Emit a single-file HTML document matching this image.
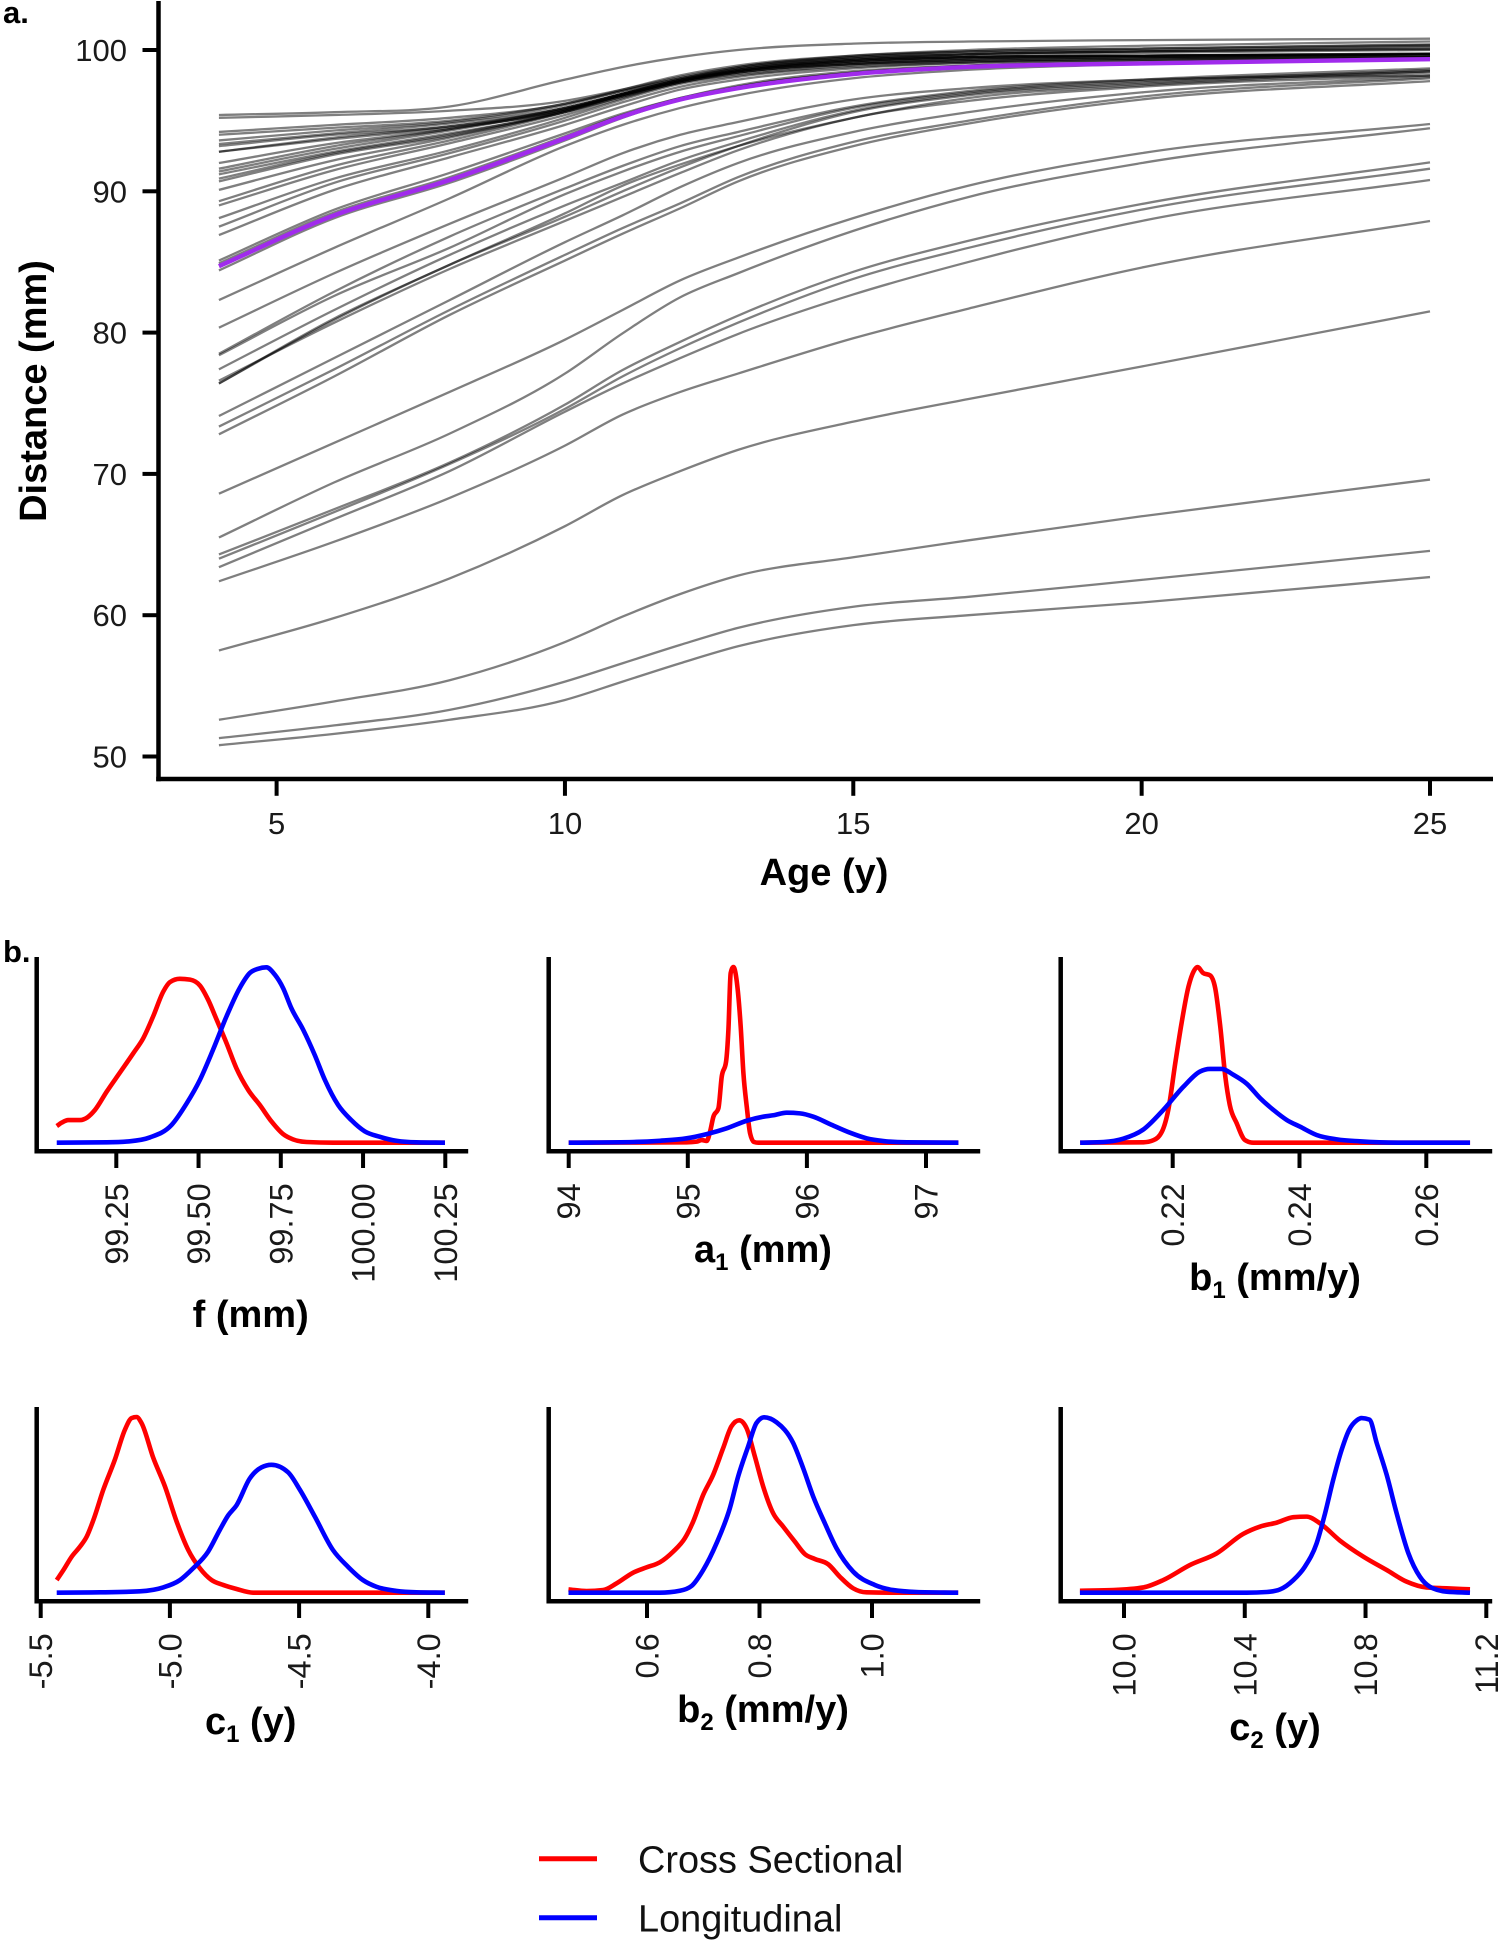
<!DOCTYPE html>
<html lang="en">
<head>
<meta charset="utf-8">
<title>Distance growth curves and parameter distributions</title>
<style>
html,body{margin:0;padding:0;background:#fff;}
#figure{display:block;width:1499px;height:1942px;background:#fff;}
text{font-family:"Liberation Sans",sans-serif;fill:#000;}
.tick{font-size:31px;fill:#1a1a1a;}
.ptick{font-size:32.5px;fill:#1a1a1a;}
.axlabel{font-size:38px;font-weight:bold;}
.panel-label{font-size:31px;font-weight:bold;}
.legend-text{font-size:37.9px;fill:#111;}
</style>
</head>
<body>
<svg id="figure" xmlns="http://www.w3.org/2000/svg" width="1499" height="1942" viewBox="0 0 1499 1942">
  <text class="panel-label" x="3" y="23">a.</text>
  <text class="panel-label" x="3" y="962">b.</text>
  <g id="main-chart"></g>
  <g id="panels"></g>
  <g>
    <line x1="539" x2="597" y1="1858.7" y2="1858.7" stroke="#f00" stroke-width="5"/>
    <text class="legend-text" x="638" y="1872.5">Cross Sectional</text>
    <line x1="539" x2="597" y1="1917.7" y2="1917.7" stroke="#00f" stroke-width="5"/>
    <text class="legend-text" x="638" y="1931.5">Longitudinal</text>
  </g>
</svg>
<script>
/* ---------- main chart data ---------- */
const ages = [4, 6, 8, 10, 11, 12, 13, 15, 17, 20, 25];
const ageTicks = [5, 10, 15, 20, 25];
const distanceTicks = [50, 60, 70, 80, 90, 100];
const meanCurve = [84.7, 88.3, 90.8, 93.75, 95.3, 96.5, 97.3, 98.3, 98.8, 99.05, 99.35];
const subjectCurves = [
  [50.8, 51.6, 52.6, 54.0, 55.3, 56.6, 57.8, 59.3, 60.0, 60.9, 62.7],
  [51.3, 52.2, 53.3, 55.3, 56.6, 57.9, 59.1, 60.6, 61.3, 62.5, 64.55],
  [52.6, 53.9, 55.4, 58.1, 59.9, 61.5, 62.8, 64.1, 65.3, 67.0, 69.6],
  [57.5, 59.8, 62.6, 66.3, 68.5, 70.2, 71.7, 73.7, 75.3, 77.6, 81.5],
  [62.4, 65.2, 68.3, 72.0, 74.2, 75.8, 77.1, 79.6, 81.7, 84.6, 87.9],
  [63.4, 66.8, 70.2, 74.4, 76.4, 78.2, 79.9, 82.7, 85.0, 87.9, 90.8],
  [64.0, 67.3, 70.7, 74.6, 76.9, 78.9, 80.7, 83.8, 86.0, 88.7, 91.6],
  [64.3, 67.5, 70.8, 74.9, 77.35, 79.35, 81.2, 84.3, 86.5, 89.1, 92.05],
  [65.5, 69.4, 72.85, 77.1, 79.95, 82.5, 84.2, 87.2, 89.6, 92.0, 94.46],
  [68.6, 72.2, 75.8, 79.5, 81.6, 83.7, 85.3, 88.1, 90.4, 92.7, 94.76],
  [72.8, 76.9, 81.25, 85.1, 87.0, 88.8, 90.7, 93.2, 94.8, 96.5, 97.8],
  [73.35, 77.4, 81.6, 85.5, 87.4, 89.15, 91.0, 93.5, 95.0, 96.7, 98.0],
  [74.1, 78.2, 82.3, 86.4, 88.3, 90.3, 92.0, 94.2, 95.6, 97.0, 98.1],
  [76.4, 81.0, 84.8, 88.44, 90.4, 91.9, 93.2, 95.2, 96.6, 97.5, 98.4],
  [76.4, 80.9, 84.8, 88.2, 90.0, 91.7, 93.2, 95.6, 96.8, 97.6, 98.5],
  [76.6, 80.7, 84.5, 87.9, 89.6, 91.3, 92.9, 95.2, 96.4, 97.4, 98.2],
  [77.4, 81.6, 85.5, 89.0, 90.6, 92.2, 93.5, 95.7, 96.9, 97.7, 98.6],
  [78.4, 82.6, 86.0, 89.8, 91.4, 92.8, 93.9, 95.9, 97.0, 97.8, 98.5],
  [78.5, 82.9, 86.8, 90.2, 91.8, 93.2, 94.2, 96.0, 97.1, 97.9, 98.7],
  [80.35, 84.2, 87.7, 91.0, 92.7, 94.0, 94.9, 96.5, 97.3, 97.9, 98.2],
  [82.3, 86.0, 89.5, 93.2, 94.7, 95.9, 96.8, 98.0, 98.6, 99.0, 99.4],
  [84.4, 88.1, 90.6, 93.6, 95.2, 96.5, 97.4, 98.4, 98.9, 99.2, 99.5],
  [84.9, 88.5, 91.0, 93.9, 95.4, 96.6, 97.4, 98.4, 98.8, 99.1, 99.4],
  [85.1, 88.7, 91.3, 94.1, 95.5, 96.6, 97.5, 98.5, 98.9, 99.1, 99.3],
  [86.9, 90.1, 92.4, 94.7, 96.0, 97.2, 97.9, 98.7, 99.1, 99.3, 99.6],
  [87.5, 90.6, 92.7, 95.0, 96.3, 97.4, 98.1, 98.8, 99.1, 99.3, 99.5],
  [88.1, 90.9, 92.9, 95.2, 96.5, 97.6, 98.2, 98.9, 99.2, 99.4, 99.7],
  [89.0, 91.5, 93.4, 95.4, 96.6, 97.7, 98.3, 99.0, 99.3, 99.5, 99.7],
  [89.3, 91.8, 93.6, 95.6, 96.8, 97.8, 98.4, 99.1, 99.4, 99.5, 99.6],
  [90.1, 92.2, 93.8, 95.7, 96.9, 97.9, 98.5, 99.1, 99.4, 99.6, 99.75],
  [90.7, 92.6, 93.9, 95.6, 96.7, 97.7, 98.4, 99.0, 99.3, 99.5, 99.7],
  [90.9, 92.7, 94.0, 95.7, 96.8, 97.8, 98.5, 99.2, 99.5, 99.6, 99.7],
  [91.2, 92.8, 94.1, 95.6, 96.7, 97.7, 98.4, 99.0, 99.2, 99.4, 99.5],
  [91.4, 93.0, 94.3, 95.8, 96.8, 97.8, 98.5, 99.2, 99.5, 99.6, 99.7],
  [91.6, 93.2, 94.4, 95.9, 96.9, 97.9, 98.6, 99.3, 99.6, 99.8, 100.0],
  [92.0, 93.4, 94.4, 95.8, 96.9, 97.9, 98.6, 99.3, 99.7, 99.9, 100.2],
  [92.8, 93.7, 94.5, 95.7, 96.8, 97.8, 98.5, 99.3, 99.5, 99.6, 99.75],
  [92.8, 93.8, 94.6, 95.8, 96.8, 97.8, 98.6, 99.4, 99.7, 99.9, 100.05],
  [93.2, 94.0, 94.6, 95.9, 96.9, 97.9, 98.7, 99.4, 99.7, 99.9, 100.1],
  [93.35, 94.1, 94.8, 95.9, 96.9, 97.8, 98.5, 99.2, 99.5, 99.6, 99.7],
  [93.6, 94.3, 94.9, 96.1, 97.1, 98.0, 98.7, 99.5, 99.8, 100.0, 100.3],
  [94.0, 94.5, 95.0, 96.2, 97.1, 98.0, 98.8, 99.5, 99.9, 100.1, 100.4],
  [94.2, 94.7, 95.2, 96.2, 97.2, 98.2, 98.9, 99.6, 99.9, 100.1, 100.35],
  [95.2, 95.4, 95.7, 96.4, 97.2, 98.1, 98.8, 99.6, 100.0, 100.3, 100.6],
  [95.4, 95.6, 96.0, 97.9, 98.8, 99.5, 100.0, 100.45, 100.6, 100.7, 100.8]
];

/* ---------- density panel data ---------- */
const fTicks = ['99.25', '99.50', '99.75', '100.00', '100.25'];
const fRedX = [99.069, 99.084, 99.104, 99.140, 99.162, 99.185, 99.221, 99.261, 99.302, 99.332, 99.362, 99.393, 99.413, 99.443, 99.474, 99.504, 99.529, 99.555, 99.585, 99.615, 99.651, 99.686, 99.722, 99.757, 99.787, 99.828, 99.909, 100.249];
const fRedD = [.095, .114, .129, .129, .144, .186, .291, .399, .51, .595, .719, .861, .914, .933, .928, .895, .814, .70, .567, .424, .30, .215, .12, .049, .019, .004, 0, 0];
const fBlueX = [99.069, 99.221, 99.291, 99.352, 99.418, 99.464, 99.504, 99.544, 99.585, 99.625, 99.656, 99.681, 99.706, 99.732, 99.757, 99.782, 99.818, 99.853, 99.884, 99.924, 99.964, 100.005, 100.05, 100.101, 100.162, 100.249];
const fBlueD = [0, .002, .008, .030, .101, .224, .357, .529, .719, .880, .966, .990, .998, .956, .880, .766, .643, .5, .357, .215, .129, .065, .034, .011, .002, 0];

const a1Ticks = ['94', '95', '96', '97'];
const a1RedX = [94, 94.99, 95.075, 95.117, 95.159, 95.187, 95.215, 95.257, 95.285, 95.321, 95.341, 95.360, 95.383, 95.416, 95.444, 95.467, 95.495, 95.523, 95.556, 95.592, 97.272];
const a1RedD = [0, .002, .006, .015, .010, .063, .148, .196, .376, .460, .643, .966, 1, .89, .662, .395, .205, .053, .004, 0, 0];
const a1BlueX = [94, 94.543, 94.767, 94.99, 95.159, 95.327, 95.495, 95.634, 95.718, 95.83, 95.942, 96.054, 96.194, 96.362, 96.502, 96.642, 96.838, 97.272];
const a1BlueD = [0, .004, .011, .025, .049, .082, .125, .148, .156, .171, .167, .148, .106, .057, .025, .0095, .002, 0];

const b1Ticks = ['0.22', '0.24', '0.26'];
const b1RedX = [.2054, .2154, .2170, .2183, .2193, .2204, .2214, .2225, .2233, .2239, .2248, .2259, .2267, .2275, .2283, .2290, .2301, .2314, .2327, .2669];
const b1RedD = [0, .002, .015, .063, .186, .452, .681, .890, .975, 1, .966, .952, .880, .662, .376, .215, .110, .015, 0, 0];
const b1BlueX = [.2054, .2091, .2122, .2154, .2185, .2217, .2243, .2259, .2277, .2296, .2317, .2338, .2359, .2380, .2401, .2427, .2459, .2495, .2558, .2669];
const b1BlueD = [0, .004, .023, .076, .186, .319, .405, .420, .420, .386, .335, .253, .186, .129, .091, .044, .019, .008, 0, 0];

const c1Ticks = ['-5.5', '-5.0', '-4.5', '-4.0'];
const c1RedX = [-5.438, -5.412, -5.380, -5.348, -5.322, -5.296, -5.258, -5.213, -5.174, -5.148, -5.129, -5.110, -5.064, -5.019, -4.974, -4.929, -4.884, -4.839, -4.794, -4.742, -4.678, -3.936];
const c1RedD = [.072, .129, .205, .262, .319, .414, .585, .757, .928, .994, 1, .966, .766, .604, .405, .243, .139, .072, .044, .021, 0, 0];
const c1BlueX = [-5.438, -5.271, -5.116, -5.026, -4.961, -4.910, -4.852, -4.807, -4.774, -4.742, -4.691, -4.646, -4.607, -4.543, -4.497, -4.439, -4.369, -4.311, -4.253, -4.201, -4.124, -4.046, -3.936];
const c1BlueD = [0, .002, .008, .030, .072, .139, .234, .357, .441, .498, .650, .713, .728, .686, .586, .433, .243, .148, .072, .034, .010, .002, 0];

const b2Ticks = ['0.6', '0.8', '1.0'];
const b2RedX = [.4604, .4924, .5221, .5458, .5754, .5991, .6228, .6465, .6673, .6821, .6999, .7176, .7354, .7502, .7639, .7769, .7917, .8065, .8243, .8421, .8628, .8806, .8984, .9221, .9428, .9665, .9902, 1.0495, 1.1532];
const b2RedD = [.019, .0095, .015, .053, .114, .144, .173, .234, .310, .405, .557, .671, .823, .947, .981, .937, .776, .605, .452, .376, .291, .220, .192, .162, .091, .025, .002, 0, 0];
const b2BlueX = [.4604, .6228, .6584, .6791, .6999, .7236, .7473, .7621, .7799, .7947, .8083, .8302, .8599, .8776, .8954, .9162, .9369, .9665, 1.005, 1.0376, 1.0791, 1.1532];
const b2BlueD = [0, 0, .011, .038, .129, .281, .481, .662, .833, .966, .998, .970, .852, .709, .548, .395, .253, .120, .044, .015, .004, 0];

const c2Ticks = ['10.0', '10.4', '10.8', '11.2'];
const c2RedX = [9.854, 9.965, 10.064, 10.130, 10.219, 10.307, 10.395, 10.450, 10.506, 10.561, 10.605, 10.649, 10.715, 10.793, 10.870, 10.936, 11.002, 11.069, 11.146];
const c2RedD = [.011, .015, .030, .072, .158, .224, .335, .376, .399, .430, .433, .395, .297, .205, .129, .063, .030, .025, .019];
const c2BlueX = [9.854, 10.406, 10.473, 10.517, 10.561, 10.599, 10.638, 10.666, 10.693, 10.721, 10.746, 10.771, 10.787, 10.813, 10.837, 10.870, 10.903, 10.942, 10.980, 11.013, 11.069, 11.146];
const c2BlueD = [0, 0, .004, .019, .072, .148, .281, .452, .643, .814, .928, .981, .994, .985, .852, .671, .452, .224, .091, .034, .006, 0];

/* ---------- drawing ---------- */
const NS = 'http://www.w3.org/2000/svg';
function make(tag, parent, attrs, text) {
  const el = document.createElementNS(NS, tag);
  for (const k in attrs) el.setAttribute(k, attrs[k]);
  if (text !== undefined) el.textContent = text;
  parent.appendChild(el);
  return el;
}
/* cubic path through increasing-x points; limited=true keeps it monotone */
function smoothPath(px, py, limited) {
  const n = px.length, h = [], s = [], m = [];
  for (let i = 0; i < n - 1; i++) { h[i] = px[i + 1] - px[i]; s[i] = (py[i + 1] - py[i]) / h[i]; }
  m[0] = s[0]; m[n - 1] = s[n - 2];
  for (let i = 1; i < n - 1; i++) {
    const a = (h[i - 1] * s[i] + h[i] * s[i - 1]) / (h[i - 1] + h[i]);
    if (!limited) { m[i] = a; continue; }
    if (s[i - 1] * s[i] <= 0) { m[i] = 0; continue; }
    m[i] = Math.sign(s[i]) * Math.min(Math.abs(s[i - 1]) * 2, Math.abs(s[i]) * 2, Math.abs(a));
  }
  let d = 'M' + px[0].toFixed(2) + ' ' + py[0].toFixed(2);
  for (let i = 0; i < n - 1; i++) {
    const t = h[i] / 3;
    d += 'C' + (px[i] + t).toFixed(2) + ' ' + (py[i] + m[i] * t).toFixed(2) + ' ' +
      (px[i + 1] - t).toFixed(2) + ' ' + (py[i + 1] - m[i + 1] * t).toFixed(2) + ' ' +
      px[i + 1].toFixed(2) + ' ' + py[i + 1].toFixed(2);
  }
  return d;
}

/* main chart */
const mainG = document.getElementById('main-chart');
const xAge = age => 276.6 + (age - 5) * 57.67;
const yDist = v => 50 + (100 - v) * 14.13;

subjectCurves.forEach(function (curve) {
  const el = make('path', mainG, {d: smoothPath(ages.map(xAge), curve.map(yDist), false), fill: 'none', stroke: '#000', 'stroke-opacity': 0.5, 'stroke-width': 2.3});
  
  
});
const meanEl = make('path', mainG, {d: smoothPath(ages.map(xAge), meanCurve.map(yDist), false), fill: 'none', stroke: '#a02bec', 'stroke-width': 4.4});



const mainY = make('line', mainG, {x1: 158.5, x2: 158.5, y1: 1, y2: 781.2, stroke: '#000', 'stroke-width': 4.5});


const mainX = make('line', mainG, {x1: 156.2, x2: 1493, y1: 779, y2: 779, stroke: '#000', 'stroke-width': 4.5});



distanceTicks.forEach(function (t) {
  const mark = make('line', mainG, {x1: 142.5, x2: 158, y1: yDist(t), y2: yDist(t), stroke: '#000', 'stroke-width': 4});
  
  
  const lab = make('text', mainG, {class: 'tick', x: 127, y: yDist(t) + 11, 'text-anchor': 'end'}, String(t));
  
  
});
ageTicks.forEach(function (t) {
  const mark = make('line', mainG, {x1: xAge(t), x2: xAge(t), y1: 779, y2: 795.8, stroke: '#000', 'stroke-width': 4});
  
  
  const lab = make('text', mainG, {class: 'tick', x: xAge(t), y: 834, 'text-anchor': 'middle'}, String(t));
  
  
});
const ageTitle = make('text', mainG, {class: 'axlabel', x: 824, y: 885, 'text-anchor': 'middle'}, 'Age (y)');


const distTitle = make('text', mainG, {class: 'axlabel', x: 46, y: 391, 'text-anchor': 'middle', transform: 'rotate(-90 46 391)'}, 'Distance (mm)');



/* density panels */
const panelsG = document.getElementById('panels');
const panelDefs = [
  {key: 'f',  left: 36.7,   top: 957,  t0: 99.25, p0: 116.3,  t1: 100.25, p1: 445.3,  ticks: fTicks,  rx: fRedX,  rd: fRedD,  bx: fBlueX,  bd: fBlueD,  letter: 'f',  sub: '',  unit: ' (mm)',   lx: 250.7, ly: 1327},
  {key: 'a1', left: 548.7,  top: 957,  t0: 94,    p0: 568.7,  t1: 97,     p1: 926,    ticks: a1Ticks, rx: a1RedX, rd: a1RedD, bx: a1BlueX, bd: a1BlueD, letter: 'a',  sub: '1', unit: ' (mm)',   lx: 763,   ly: 1262},
  {key: 'b1', left: 1060.7, top: 957,  t0: .22,   p0: 1172.7, t1: .26,    p1: 1426.3, ticks: b1Ticks, rx: b1RedX, rd: b1RedD, bx: b1BlueX, bd: b1BlueD, letter: 'b',  sub: '1', unit: ' (mm/y)', lx: 1275,  ly: 1290},
  {key: 'c1', left: 36.7,   top: 1407, t0: -5.5,  p0: 40.7,   t1: -4,     p1: 428.3,  ticks: c1Ticks, rx: c1RedX, rd: c1RedD, bx: c1BlueX, bd: c1BlueD, letter: 'c',  sub: '1', unit: ' (y)',    lx: 250.7, ly: 1734},
  {key: 'b2', left: 548.7,  top: 1407, t0: .6,    p0: 647,    t1: 1,      p1: 872,    ticks: b2Ticks, rx: b2RedX, rd: b2RedD, bx: b2BlueX, bd: b2BlueD, letter: 'b',  sub: '2', unit: ' (mm/y)', lx: 763,   ly: 1722},
  {key: 'c2', left: 1060.7, top: 1407, t0: 10,    p0: 1124,   t1: 11.2,   p1: 1486.3, ticks: c2Ticks, rx: c2RedX, rd: c2RedD, bx: c2BlueX, bd: c2BlueD, letter: 'c',  sub: '2', unit: ' (y)',    lx: 1275,  ly: 1740}
];

panelDefs.forEach(function (p) {
  const g = make('g', panelsG, {});
  
  
  const bottom = p.top + 194.3;
  const base = p.top + 185.7;
  const peak = p.top + 10;
  const sx = x => p.p0 + (x - p.t0) * (p.p1 - p.p0) / (p.t1 - p.t0);
  const sy = d => base - d * (base - peak);

  const red = make('path', g, {d: smoothPath(p.rx.map(sx), p.rd.map(sy), true), fill: 'none', stroke: '#f00', 'stroke-width': 4.6});
  
  
  const blue = make('path', g, {d: smoothPath(p.bx.map(sx), p.bd.map(sy), true), fill: 'none', stroke: '#00f', 'stroke-width': 4.6});
  
  

  const ya = make('line', g, {x1: p.left, x2: p.left, y1: p.top, y2: bottom + 2.2, stroke: '#000', 'stroke-width': 4.5});
  
  
  const xa = make('line', g, {x1: p.left - 2.2, x2: p.left + 431.5, y1: bottom, y2: bottom, stroke: '#000', 'stroke-width': 4.5});
  
  

  p.ticks.forEach(function (t) {
    const tx = sx(Number(t));
    const mark = make('line', g, {x1: tx, x2: tx, y1: bottom, y2: bottom + 16.7, stroke: '#000', 'stroke-width': 4});
    
    
    const ly = bottom + 32;
    const lab = make('text', g, {class: 'ptick', x: tx + 11.5, y: ly, 'text-anchor': 'end', transform: 'rotate(-90 ' + (tx + 11.5) + ' ' + ly + ')'}, t);
    
    
  });

  const title = make('text', g, {class: 'axlabel', x: p.lx, y: p.ly, 'text-anchor': 'middle'});
  
  
  make('tspan', title, {}, p.letter);
  if (p.sub) {
    make('tspan', title, {dy: 8, 'font-size': 24}, p.sub);
    make('tspan', title, {dy: -8}, p.unit);
  } else {
    make('tspan', title, {}, p.unit);
  }
});
</script>
</body>
</html>
